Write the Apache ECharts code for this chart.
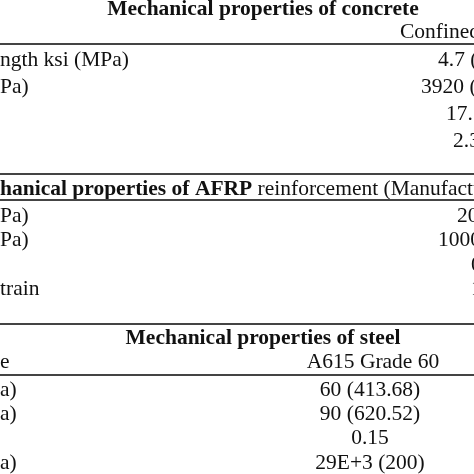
<!DOCTYPE html>
<html><head><meta charset="utf-8">
<script src="https://cdn.jsdelivr.net/npm/echarts@6/dist/echarts.min.js"></script>
<style>html,body{margin:0;padding:0;background:#fff}#c{width:474px;height:474px}</style>
</head><body><div id="c"></div>
<script>
const titles = ["Mechanical properties of concrete", "Mechanical properties of steel"];
const concreteLabels = ["ngth ksi (MPa)", "Pa)", "", ""];
const concreteValues = ["4.7 (32.4)", "3920 (27.0)", "17.1", "2.3"];
const afrpLabels = ["Pa)", "Pa)", "", "train"];
const afrpValues = ["200", "10000", "0", "1"];
const steelLabels = ["a)", "a)", "", "a)"];
const steelValues = ["60 (413.68)", "90 (620.52)", "0.15", "29E+3 (200)"];

const F = '"Liberation Serif", "DejaVu Serif", serif';
const fs = 21.5;
const g = [];
function txt(x, y, s, opt) {
  opt = opt || {};
  g.push({type:'text', x:x, y:y, style:{text:s, font:(opt.bold?'bold ':'')+fs+'px '+F, fill:'#111', align:opt.align||'left', verticalAlign:'middle'}});
}
function line(y) {
  g.push({type:'line', shape:{x1:0, y1:y, x2:474, y2:y}, style:{stroke:'#444', lineWidth:2}});
}
txt(263, 9, titles[0], {bold:true, align:'center'});
txt(400, 32, "Confined");
line(44);
const cx = [438, 421, 446, 453];
concreteLabels.forEach((l,i)=>{ txt(0, 60+i*27, l); txt(cx[i], 60+i*27, concreteValues[i]); });
line(174);
g.push({type:'text', x:0, y:189, style:{rich:{b:{font:'bold '+fs+'px '+F, fill:'#111'}, r:{font:fs+'px '+F, fill:'#111'}}, text:'{b|hanical properties of AFRP}{r| reinforcement (Manufacturer)}', verticalAlign:'middle'}});
line(200);
const ax = [457, 438, 471, 471];
afrpLabels.forEach((l,i)=>{ txt(0, 216+i*24.5, l); txt(ax[i], 216+i*24.5, afrpValues[i]); });
line(324);
txt(263, 338, titles[1], {bold:true, align:'center'});
txt(0, 362, "e");
txt(373, 362, "A615 Grade 60", {align:'center'});
line(375);
steelLabels.forEach((l,i)=>{ txt(0, 390+i*24.3, l); txt(370, 390+i*24.3, steelValues[i], {align:'center'}); });

const chart = echarts.init(document.getElementById('c'));
chart.setOption({backgroundColor:'#fff', graphic:g});
</script></body></html>
